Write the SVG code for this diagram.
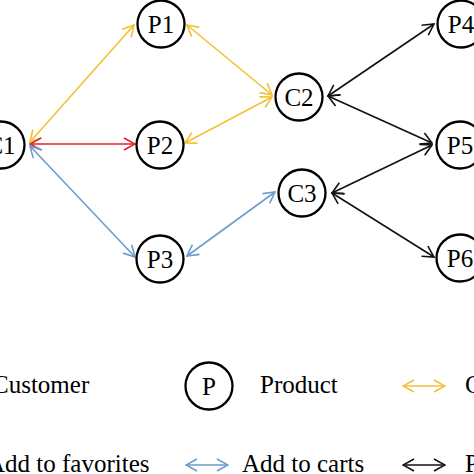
<svg xmlns="http://www.w3.org/2000/svg" width="474" height="474" viewBox="0 0 474 474">
<defs>
<style>
.n circle{fill:#fff;stroke:#000;stroke-width:2.3}
.n text, .t{font-family:"Liberation Serif","Times New Roman",serif;fill:#000}
.n text{font-size:25px;text-anchor:middle}
.t{font-size:25px}
.e{fill:none;stroke-width:1.6}
.y{stroke:#F0C233;marker-start:url(#ay);marker-end:url(#ay)}
.r{stroke:#E3202B;marker-start:url(#ar);marker-end:url(#ar)}
.b{stroke:#6D9BCE;marker-start:url(#ab);marker-end:url(#ab)}
.k{stroke:#111;marker-start:url(#ak);marker-end:url(#ak)}
</style>
<marker id="ay" viewBox="0 0 13 14" refX="12" refY="7" markerWidth="13" markerHeight="14" markerUnits="userSpaceOnUse" orient="auto-start-reverse"><path d="M1,1 L12,7 L1,13" fill="none" stroke="#F0C233" stroke-width="1.6"/></marker>
<marker id="ar" viewBox="0 0 13 14" refX="12" refY="7" markerWidth="13" markerHeight="14" markerUnits="userSpaceOnUse" orient="auto-start-reverse"><path d="M1,1 L12,7 L1,13" fill="none" stroke="#E3202B" stroke-width="1.6"/></marker>
<marker id="ab" viewBox="0 0 13 14" refX="12" refY="7" markerWidth="13" markerHeight="14" markerUnits="userSpaceOnUse" orient="auto-start-reverse"><path d="M1,1 L12,7 L1,13" fill="none" stroke="#6D9BCE" stroke-width="1.6"/></marker>
<marker id="ak" viewBox="0 0 13 14" refX="12" refY="7" markerWidth="13" markerHeight="14" markerUnits="userSpaceOnUse" orient="auto-start-reverse"><path d="M1,1 L12,7 L1,13" fill="none" stroke="#111" stroke-width="1.6"/></marker>
</defs>
<rect width="474" height="474" fill="#fff"/>
<g id="connectors">
<line class="e y" x1="30" y1="142" x2="134" y2="25"/>
<line class="e y" x1="187" y1="25" x2="272" y2="95"/>
<line class="e y" x1="185" y1="143" x2="272" y2="97"/>
<line class="e r" x1="30" y1="144" x2="135" y2="144"/>
<line class="e b" x1="30" y1="146" x2="135" y2="257"/>
<line class="e b" x1="187" y1="256" x2="275" y2="192"/>
<line class="e k" x1="328" y1="96" x2="434" y2="24"/>
<line class="e k" x1="328" y1="96" x2="432" y2="143"/>
<line class="e k" x1="332" y1="193" x2="432" y2="145"/>
<line class="e k" x1="332" y1="193" x2="434" y2="257"/>
</g>
<g id="C1" class="n"><circle cx="1" cy="145" r="23.5"/><text x="1" y="153.5">C1</text></g>
<g id="P1" class="n"><circle cx="161" cy="24" r="23.5"/><text x="161" y="32.5">P1</text></g>
<g id="P2" class="n"><circle cx="160" cy="145" r="23.5"/><text x="160" y="153.5">P2</text></g>
<g id="P3" class="n"><circle cx="160" cy="259" r="23.5"/><text x="160" y="267.5">P3</text></g>
<g id="C2" class="n"><circle cx="299" cy="97" r="23.5"/><text x="299" y="105.5">C2</text></g>
<g id="C3" class="n"><circle cx="302" cy="193" r="23.5"/><text x="302" y="201.5">C3</text></g>
<g id="P4" class="n"><circle cx="461" cy="24" r="23.5"/><text x="461" y="32.5">P4</text></g>
<g id="P5" class="n"><circle cx="460" cy="145" r="23.5"/><text x="460" y="153.5">P5</text></g>
<g id="P6" class="n"><circle cx="460" cy="258" r="23.5"/><text x="460" y="266.5">P6</text></g>
<g id="legend">
<text class="t" x="-8" y="393">Customer</text>
<g id="legend-P" class="n"><circle cx="209" cy="386" r="23.5"/><text x="209" y="394.5">P</text></g>
<text class="t" x="260" y="393">Product</text>
<line class="e y" x1="403" y1="386" x2="445" y2="386"/>
<text class="t" x="465" y="393">C</text>
<text class="t" x="-13" y="472">Add to favorites</text>
<line class="e b" x1="186" y1="465" x2="228" y2="465"/>
<text class="t" x="242" y="472">Add to carts</text>
<line class="e k" x1="403" y1="465" x2="445" y2="465"/>
<text class="t" x="465" y="472">P</text>
</g>
</svg>
